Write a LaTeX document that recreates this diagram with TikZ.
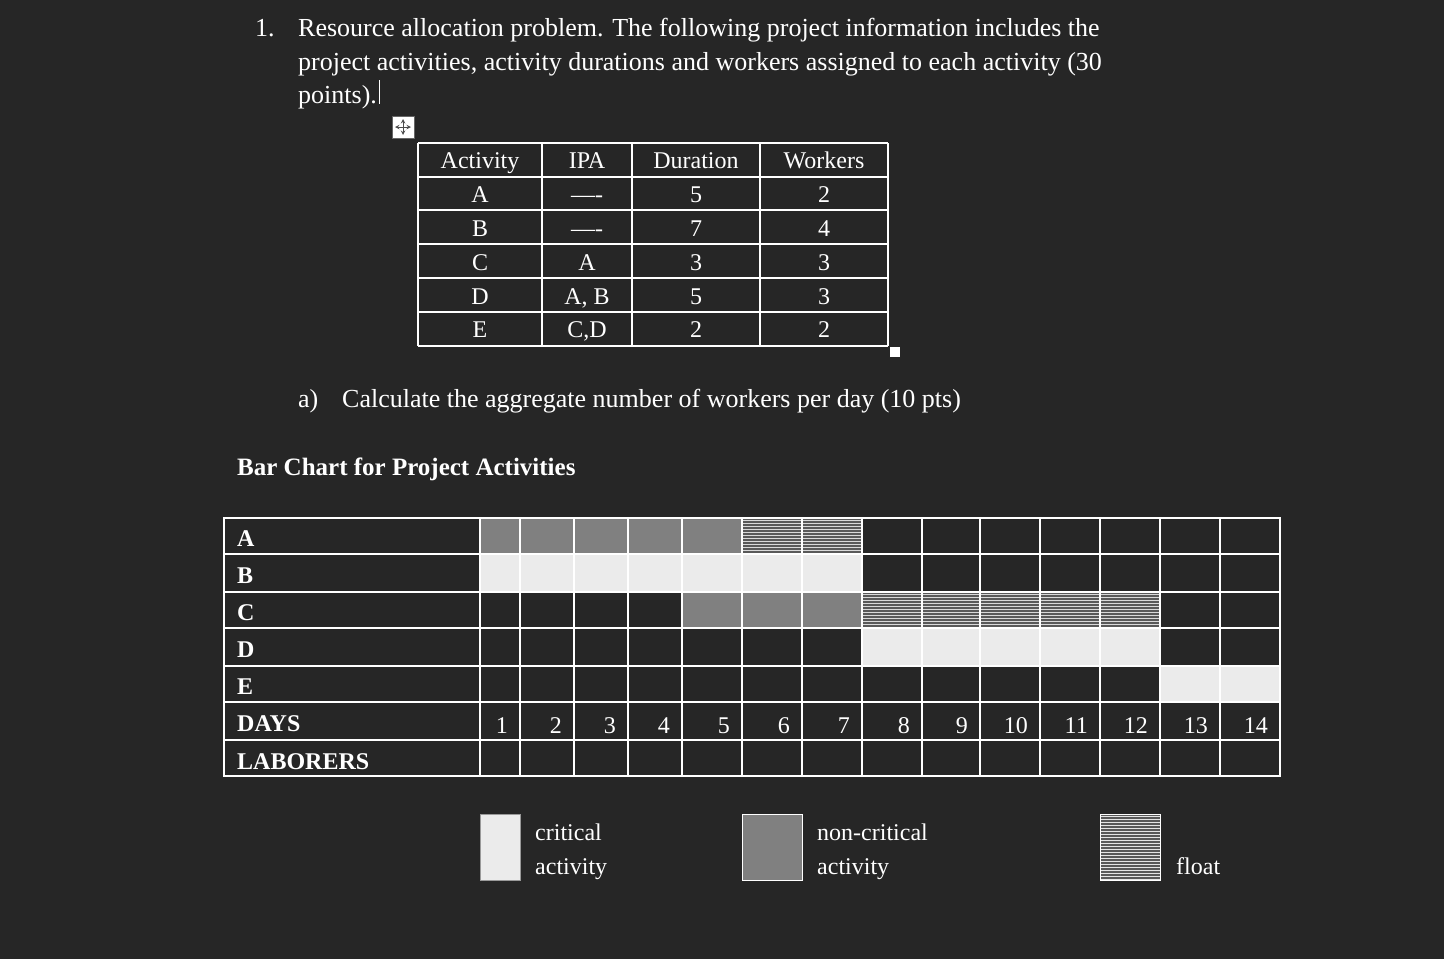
\documentclass[tikz,border=0pt]{standalone}
\usepackage{fontspec}
\setmainfont{Liberation Serif}
\begin{document}
\begin{tikzpicture}[x=1pt,y=-1pt,
  grid/.style={draw=white,line width=1.6pt},
  txt/.style={text=white,inner sep=0pt,font=\fontsize{26}{30}\selectfont},
  tbl/.style={text=white,inner sep=0pt,font=\fontsize{24}{28}\selectfont},
  lbl/.style={text=white,inner sep=0pt,anchor=west,font=\fontsize{24}{28}\selectfont\bfseries},
  crit/.style={fill=black!8},
  ncrit/.style={fill=black!50}]
\definecolor{bg}{HTML}{262626}
\fill[bg] (0,0) rectangle (1444,959);
\useasboundingbox (0,0) rectangle (1444,959);
% heading
\node[txt,anchor=base west] (n1) at (255,36) {1.};
\node[txt,anchor=base west] (l1) at (298,36) {Resource allocation problem. The following project information includes the};
\node[txt,anchor=base west] (l2) at (298,70) {project activities, activity durations and workers assigned to each activity (30};
\node[txt,anchor=base west] (l3) at (298,103) {points).};
\draw[white,line width=1pt] (379,80) -- (379,104);
% move icon
\draw[fill=white,draw=black!60] (392,116) rectangle (414,138);
\draw[black!70,line width=1pt,->,>=stealth] (403,127) -- (403,119);
\draw[black!70,line width=1pt,->,>=stealth] (403,127) -- (403,135);
\draw[black!70,line width=1pt,->,>=stealth] (403,127) -- (395,127);
\draw[black!70,line width=1pt,->,>=stealth] (403,127) -- (411,127);
% table
\foreach \x in {418,542,632,760,888} \draw[grid] (\x,143) -- (\x,346);
\foreach \y in {143,177,210,244,278,312,346} \draw[grid] (418,\y) -- (888,\y);
\fill[white] (890,347) rectangle (900,357);
\def\cx{{480,587,696,824}}
\foreach \r [count=\i] in {{Activity,IPA,Duration,Workers},{A,----,5,2},{B,----,7,4},{C,A,3,3},{D,{A, B},5,3},{E,{C,D},2,2}}{
  \foreach \c [count=\j] in \r {
    \pgfmathsetmacro\xx{\cx[\j-1]}
    \node[tbl,anchor=base] (t\i\j) at (\xx,135+\i*33.8) {\c};
  }
}
\node[txt,anchor=base west] (qa) at (298,407) {a)};
\node[txt,anchor=base west] (qb) at (342,407) {Calculate the aggregate number of workers per day (10 pts)};
\node[txt,anchor=base west,font=\fontsize{25}{30}\selectfont\bfseries] (bc) at (237,475) {Bar Chart for Project Activities};
% chart
\def\cols{{480,520,574,628,682,742,802,862,922,980,1040,1100,1160,1220,1280}}
\def\rows{{518,554,592,628,666,702,740,776}}
\newcommand\cellfill[4]{%
  \foreach \d in {#2,...,#3}{%
    \pgfmathsetmacro\xa{\cols[\d-1]}\pgfmathsetmacro\xb{\cols[\d]}%
    \pgfmathsetmacro\ya{\rows[#1-1]}\pgfmathsetmacro\yb{\rows[#1]}%
    \fill[#4] (\xa,\ya) rectangle (\xb,\yb);}}
\newcommand\floatfill[3]{%
  \foreach \d in {#2,...,#3}{%
    \pgfmathsetmacro\xa{\cols[\d-1]}\pgfmathsetmacro\xb{\cols[\d]}%
    \pgfmathsetmacro\ya{\rows[#1-1]}\pgfmathsetmacro\yb{\rows[#1]}%
    \fill[black!65] (\xa,\ya) rectangle (\xb,\yb);
    \foreach \k in {0,...,11}{\draw[black!15,line width=0.9pt] (\xa,\ya+2+\k*3) -- (\xb,\ya+2+\k*3);}}}
\cellfill{1}{1}{5}{ncrit}
\floatfill{1}{6}{7}
\cellfill{2}{1}{7}{crit}
\cellfill{3}{5}{7}{ncrit}
\floatfill{3}{8}{12}
\cellfill{4}{8}{12}{crit}
\cellfill{5}{13}{14}{crit}
\draw[grid] (224,518) rectangle (1280,776);
\foreach \y in {554,592,628,666,702,740} \draw[grid] (224,\y) -- (1280,\y);
\foreach \x in {480,520,574,628,682,742,802,862,922,980,1040,1100,1160,1220} \draw[grid] (\x,518) -- (\x,776);
\foreach \t/\yy [count=\i] in {A/539,B/576,C/613,D/650,E/687}{\node[lbl] (r\i) at (237,\yy) {\t};}
\node[lbl] (days) at (237,724) {DAYS};
\node[lbl] (lab) at (237,762) {LABORERS};
\foreach \d in {1,...,14}{
  \pgfmathsetmacro\xr{\cols[\d]-12}
  \node[tbl,anchor=base east] (d\d) at (\xr,733) {\d};}
% legend
\fill[crit,draw=black!40] (480,814) rectangle (520,880);
\node[tbl,anchor=base west] (lc1) at (535,840) {critical};
\node[tbl,anchor=base west] (lc2) at (535,874) {activity};
\fill[ncrit,draw=white!80] (742,814) rectangle (802,880);
\node[tbl,anchor=base west] (ln1) at (817,840) {non-critical};
\node[tbl,anchor=base west] (ln2) at (817,874) {activity};
\fill[black!65] (1100,814) rectangle (1160,880);
\foreach \k in {0,...,21}{\draw[black!10,line width=0.9pt] (1100,816+\k*3) -- (1160,816+\k*3);}
\draw[white!80] (1100,814) rectangle (1160,880);
\node[tbl,anchor=base west] (lf) at (1176,874) {float};
\end{tikzpicture}
\end{document}
